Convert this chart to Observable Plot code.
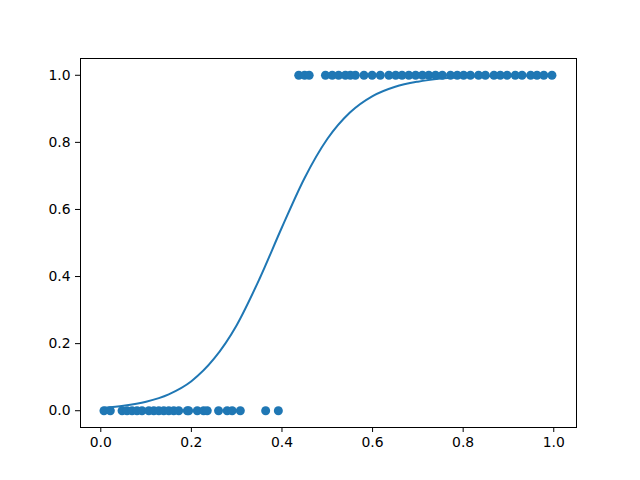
<!DOCTYPE html>
<html>
<head>
<meta charset="utf-8">
<script src="https://cdn.jsdelivr.net/npm/d3@7"></script>
<script src="https://cdn.jsdelivr.net/npm/@observablehq/plot@0.6"></script>
<style>
body { margin: 0; background: #fff; }
</style>
</head>
<body>
<div id="chart"></div>
<script>
const xZero = [0.007, 0.021, 0.047, 0.058, 0.069, 0.08, 0.091, 0.106, 0.117, 0.128, 0.139, 0.15, 0.161, 0.172, 0.191,
  0.194, 0.213, 0.227, 0.235, 0.26, 0.279, 0.29, 0.308, 0.364, 0.392];
const xOne = [0.437, 0.45, 0.46, 0.496, 0.511, 0.525, 0.54, 0.551, 0.562, 0.581, 0.599, 0.617,
  0.636, 0.651, 0.665, 0.68, 0.695, 0.71, 0.724, 0.739, 0.754, 0.772, 0.787, 0.801, 0.816,
  0.834, 0.849, 0.868, 0.882, 0.897, 0.915, 0.93, 0.949, 0.963, 0.978, 0.996];
const curveX = [0.007, 0.05, 0.1, 0.15, 0.2, 0.25, 0.3, 0.35, 0.4, 0.45, 0.5, 0.55, 0.6, 0.65, 0.7, 0.75, 0.8, 0.85, 0.9, 0.95, 0.996];
const curveY = [0.009, 0.015, 0.027, 0.049, 0.088, 0.155, 0.255, 0.392, 0.547, 0.694, 0.81, 0.889, 0.938, 0.966, 0.981, 0.99, 0.995, 0.997, 0.998, 0.999, 0.9996];
const xTicks = [0.0, 0.2, 0.4, 0.6, 0.8, 1.0];
const yTicks = [0.0, 0.2, 0.4, 0.6, 0.8, 1.0];

const points = [
  ...xZero.map(x => ({x, y: 0})),
  ...xOne.map(x => ({x, y: 1}))
];
const curve = curveX.map((x, i) => ({x, y: curveY[i]}));

const chart = Plot.plot({
  width: 640,
  height: 480,
  marginLeft: 80,
  marginRight: 64,
  marginTop: 58,
  marginBottom: 53,
  style: {fontFamily: "DejaVu Sans", fontSize: "13.9px", color: "black", background: "white"},
  x: {domain: [-0.0448, 1.0502], ticks: xTicks, tickFormat: d3.format(".1f"), label: null, tickSize: 5, tickPadding: 5},
  y: {domain: [-0.05, 1.05], ticks: yTicks, tickFormat: d3.format(".1f"), label: null, tickSize: 5, tickPadding: 5},
  marks: [
    Plot.dot(points, {x: "x", y: "y", r: 4.5, fill: "#1f77b4", stroke: "none"}),
    Plot.line(curve, {x: "x", y: "y", stroke: "#1f77b4", strokeWidth: 2, curve: "monotone-x"}),
    Plot.frame({stroke: "black", strokeWidth: 1})
  ]
});
document.getElementById("chart").appendChild(chart);
</script>
</body>
</html>
